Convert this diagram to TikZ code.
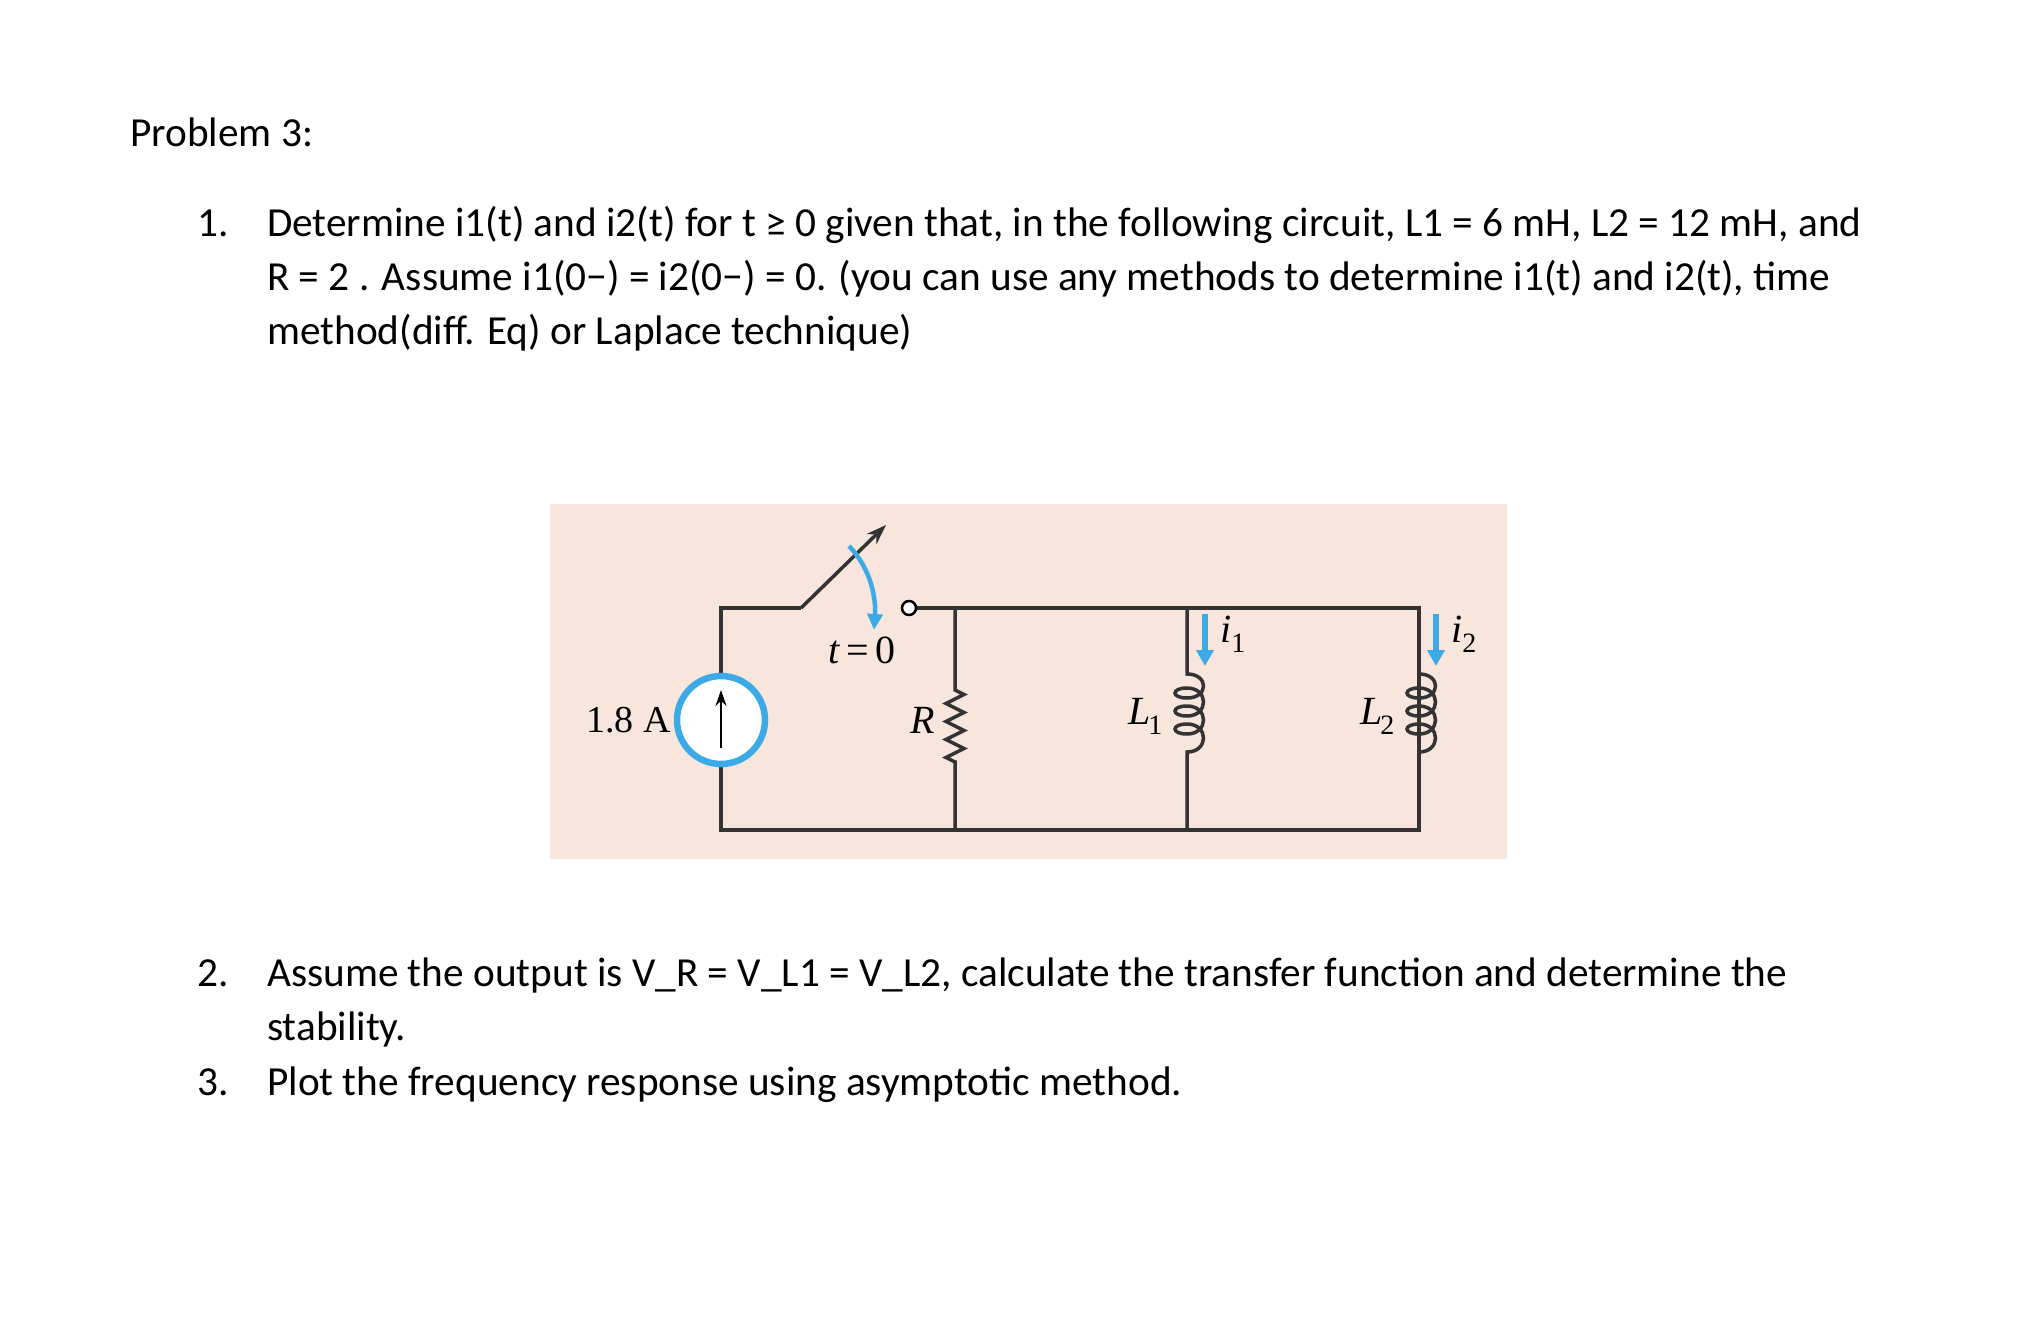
\documentclass[tikz,border=0pt]{standalone}
\usepackage{fontspec}
\setmainfont{Carlito}
\newfontfamily\circfont{Liberation Serif}
\usetikzlibrary{arrows.meta,decorations.pathmorphing}
\definecolor{bgpink}{RGB}{248,230,220}
\definecolor{cblue}{RGB}{60,170,230}
\begin{document}
\begin{tikzpicture}[x=1pt,y=-1pt,
  txt/.style={anchor=base west,inner sep=0,font=\fontsize{41.3}{48}\selectfont},
  wire/.style={line width=3.5pt,black!80},
  lab/.style={font=\circfont\fontsize{40}{44}\selectfont\itshape,inner sep=0},
  barrow/.style={cblue,line width=6pt,-{Triangle[length=16pt,width=17pt]}}]
\useasboundingbox (0,0) rectangle (2038,1336);
\fill[white] (0,0) rectangle (2038,1336);
\node[txt] (title) at (130,146) {Problem 3:};
\node[txt] (n1) at (197,236) {1.};
\node[txt] (l1) at (267,236) {Determine i1(t) and i2(t) for t ≥ 0 given that, in the following circuit, L1 = 6 mH, L2 = 12 mH, and};
\node[txt] (l2) at (267,290) {R = 2 . Assume i1(0−) = i2(0−) = 0. (you can use any methods to determine i1(t) and i2(t), time};
\node[txt] (l3) at (267,344) {method(diff. Eq) or Laplace technique)};
\node[txt] (n2) at (197,986) {2.};
\node[txt] (l4) at (267,986) {Assume the output is V\_R = V\_L1 = V\_L2, calculate the transfer function and determine the};
\node[txt] (l5) at (267,1040) {stability.};
\node[txt] (n3) at (197,1095) {3.};
\node[txt] (l6) at (267,1095) {Plot the frequency response using asymptotic method.};
% circuit
\fill[bgpink] (550,504) rectangle (1507,859);
\coordinate (tl) at (721,608);
\coordinate (bl) at (721,830);
\coordinate (sw) at (801,608);
\coordinate (swe) at (886,525);
\node[circle,draw,line width=2.5pt,inner sep=0,minimum size=14pt,fill=white] (ct) at (909,608) {};
\coordinate (rt) at (955,608);
\coordinate (rb) at (955,830);
\coordinate (l1t) at (1187,608);
\coordinate (l1b) at (1187,830);
\coordinate (l2t) at (1419,608);
\coordinate (l2b) at (1419,830);
\draw[wire] (ct.east) -- (l2t) -- (l2b) -- (bl) -- (tl) -- (sw);
\draw[wire,-{Stealth[length=20pt,width=14pt]}] (sw) -- (swe);
% source
\node[circle,draw=cblue,line width=6.5pt,fill=white,minimum size=88pt,inner sep=0] (src) at (721,720) {};
\draw[line width=2.5pt,-{Stealth[length=16pt,width=11pt]}] (721,748) -- (721,690);
% resistor
\draw[wire] (rt) -- (955,690) decorate[decoration={zigzag,segment length=18pt,amplitude=9pt}]{-- (955,762)} -- (rb);
% inductors
\foreach \x in {1187,1419}{
 \draw[wire] (\x,608) -- (\x,674)
  .. controls (\x+22,674) and (\x+22,698) .. (\x,698)
  .. controls (\x-16,698) and (\x-16,688) .. (\x,688)
  .. controls (\x+22,688) and (\x+22,716) .. (\x,716)
  .. controls (\x-16,716) and (\x-16,706) .. (\x,706)
  .. controls (\x+22,706) and (\x+22,734) .. (\x,734)
  .. controls (\x-16,734) and (\x-16,724) .. (\x,724)
  .. controls (\x+22,724) and (\x+22,752) .. (\x,752)
  -- (\x,830);
}
% blue arrows
\draw[barrow] (1205,614) -- (1205,666);
\draw[barrow] (1436,614) -- (1436,666);
\draw[cblue,line width=4.5pt,-{Triangle[length=16pt,width=15pt]}] (849,546) .. controls (872,570) and (876,600) .. (874,630);
% labels
\node[lab,font=\circfont\fontsize{38}{40}\selectfont,anchor=east] (srcl) at (671,720) {1.8 A};
\node[lab] (tl0) at (862,650) {t\,{\upshape=}\,{\upshape 0}};
\node[lab,anchor=east] (rl) at (935,720) {R};
\node[lab,anchor=east] (l1l) at (1163,716) {L\kern-2pt\textsubscript{\upshape 1}};
\node[lab,anchor=east] (l2l) at (1395,716) {L\kern-2pt\textsubscript{\upshape 2}};
\node[lab,anchor=west] (i1l) at (1220,634) {i\textsubscript{\upshape 1}};
\node[lab,anchor=west] (i2l) at (1451,634) {i\textsubscript{\upshape 2}};
\end{tikzpicture}
\end{document}
